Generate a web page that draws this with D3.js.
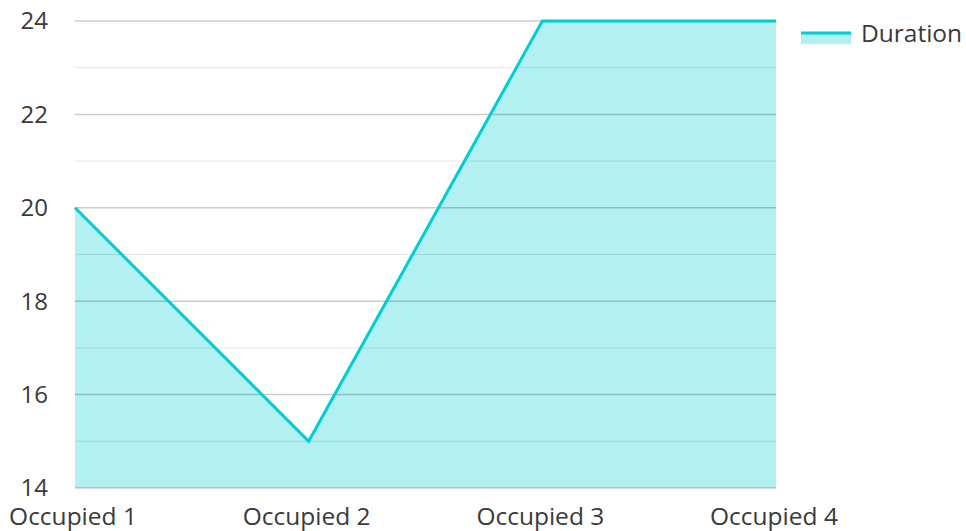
<!DOCTYPE html>
<html>
<head>
<meta charset="utf-8">
<script src="https://cdn.jsdelivr.net/npm/d3@7"></script>
<style>
  body { margin: 0; background: white; }
  text { font-family: "Open Sans", "Noto Sans", sans-serif; fill: #3a3a3a; }
</style>
</head>
<body>
<div id="vis"></div>
<script>
// chart data
let categories = ['Occupied 1', 'Occupied 2', 'Occupied 3', 'Occupied 4']
let durations = [20, 15, 24, 24]
let majorTicks = [14, 16, 18, 20, 22, 24]
let minorTicks = [15, 17, 19, 21, 23]
let seriesName = 'Duration'

let margin = { top: 21, left: 75, right: 190, bottom: 43 },
  width = 966 - margin.left - margin.right,
  height = 531 - margin.top - margin.bottom

let lineColor = '#00ced1'
let fillColor = 'rgba(0, 206, 209, 0.3)'

let svg = d3.select('#vis')
  .append('svg')
  .attr('width', 966)
  .attr('height', 531)

let g = svg.append('g')
  .attr('transform', `translate(${margin.left},${margin.top})`)

let x = d3.scalePoint()
  .domain(categories)
  .range([0, width])

let y = d3.scaleLinear()
  .domain([14, 24])
  .range([height, 0])

let data = categories.map((c, i) => ({ cat: c, val: durations[i] }))

// filled area under the line
g.append('path')
  .datum(data)
  .attr('fill', fillColor)
  .attr('d', d3.area()
    .x(d => x(d.cat))
    .y0(y(14))
    .y1(d => y(d.val)))

// minor grid lines
g.selectAll('.minor')
  .data(minorTicks)
  .join('line')
  .attr('x1', 0).attr('x2', width)
  .attr('y1', d => y(d)).attr('y2', d => y(d))
  .attr('stroke', 'rgba(0,0,0,0.1)')
  .attr('stroke-width', 1)

// major grid lines
g.selectAll('.major')
  .data(majorTicks)
  .join('line')
  .attr('x1', 0).attr('x2', width)
  .attr('y1', d => y(d)).attr('y2', d => y(d))
  .attr('stroke', 'rgba(0,0,0,0.2)')
  .attr('stroke-width', 1.5)

// the line itself
g.append('path')
  .datum(data)
  .attr('fill', 'none')
  .attr('stroke', lineColor)
  .attr('stroke-width', 3)
  .attr('d', d3.line()
    .x(d => x(d.cat))
    .y(d => y(d.val)))

// y axis labels
g.selectAll('.ylab')
  .data(majorTicks)
  .join('text')
  .attr('x', -27)
  .attr('y', d => y(d))
  .attr('dy', '0.35em')
  .attr('text-anchor', 'end')
  .style('font-size', '24px')
  .text(d => d)

// x axis labels
g.selectAll('.xlab')
  .data(categories)
  .join('text')
  .attr('x', d => x(d) - 2)
  .attr('y', height + 37)
  .attr('text-anchor', 'middle')
  .style('font-size', '24.5px')
  .text(d => d)

// legend
let legend = svg.append('g').attr('transform', 'translate(801,33)')
legend.append('rect')
  .attr('x', 0).attr('y', 0)
  .attr('width', 50).attr('height', 11)
  .attr('fill', fillColor)
legend.append('line')
  .attr('x1', 0).attr('x2', 50)
  .attr('y1', 0).attr('y2', 0)
  .attr('stroke', lineColor)
  .attr('stroke-width', 3)
legend.append('text')
  .attr('x', 60)
  .attr('y', 9)
  .style('font-size', '24.5px')
  .text(seriesName)
</script>
</body>
</html>
